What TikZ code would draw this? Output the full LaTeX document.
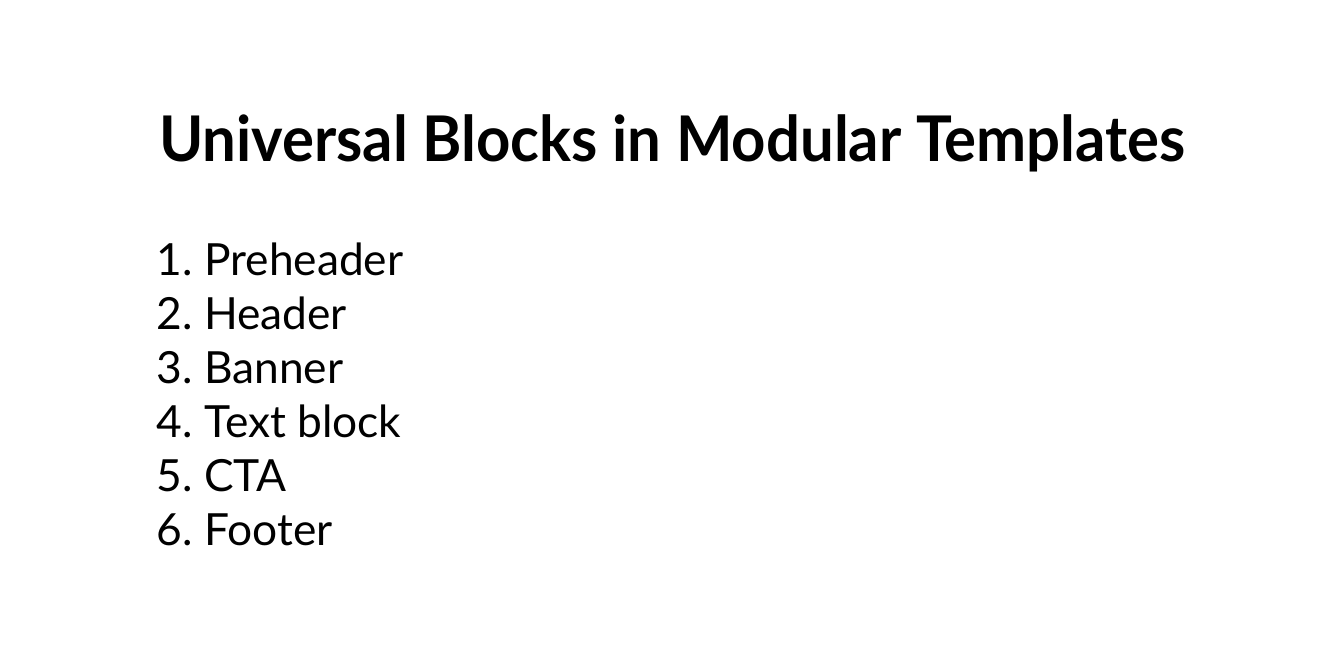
\documentclass[tikz,border=0pt]{standalone}
\usepackage{fontspec}
\setmainfont{Lato}
\newfontfamily\titlefam{Lato}[FakeStretch=0.95]
\frenchspacing
\begin{document}
\begin{tikzpicture}[x=1pt,y=1pt,
  titletext/.style={anchor=base west,inner sep=0pt,font=\titlefam\fontsize{63}{63}\selectfont\bfseries},
  itemtext/.style={anchor=base west,inner sep=0pt,font=\fontsize{44.3}{44.3}\selectfont}]
\useasboundingbox[fill=white] (0,0) rectangle (1342,-656);
\node[titletext] (title) at (159,-161.7) {Universal Blocks in Modular Templates};
\node[itemtext] (i1) at (156.5,-275.3) {1. Preheader};
\node[itemtext] (i2) at (156.5,-329.3) {2. Header};
\node[itemtext] (i3) at (156.5,-383.3) {3. Banner};
\node[itemtext] (i4) at (156.5,-437.3) {4. Text block};
\node[itemtext] (i5) at (156.5,-491.3) {5. CTA};
\node[itemtext] (i6) at (156.5,-545.3) {6. Footer};
\end{tikzpicture}
\end{document}
